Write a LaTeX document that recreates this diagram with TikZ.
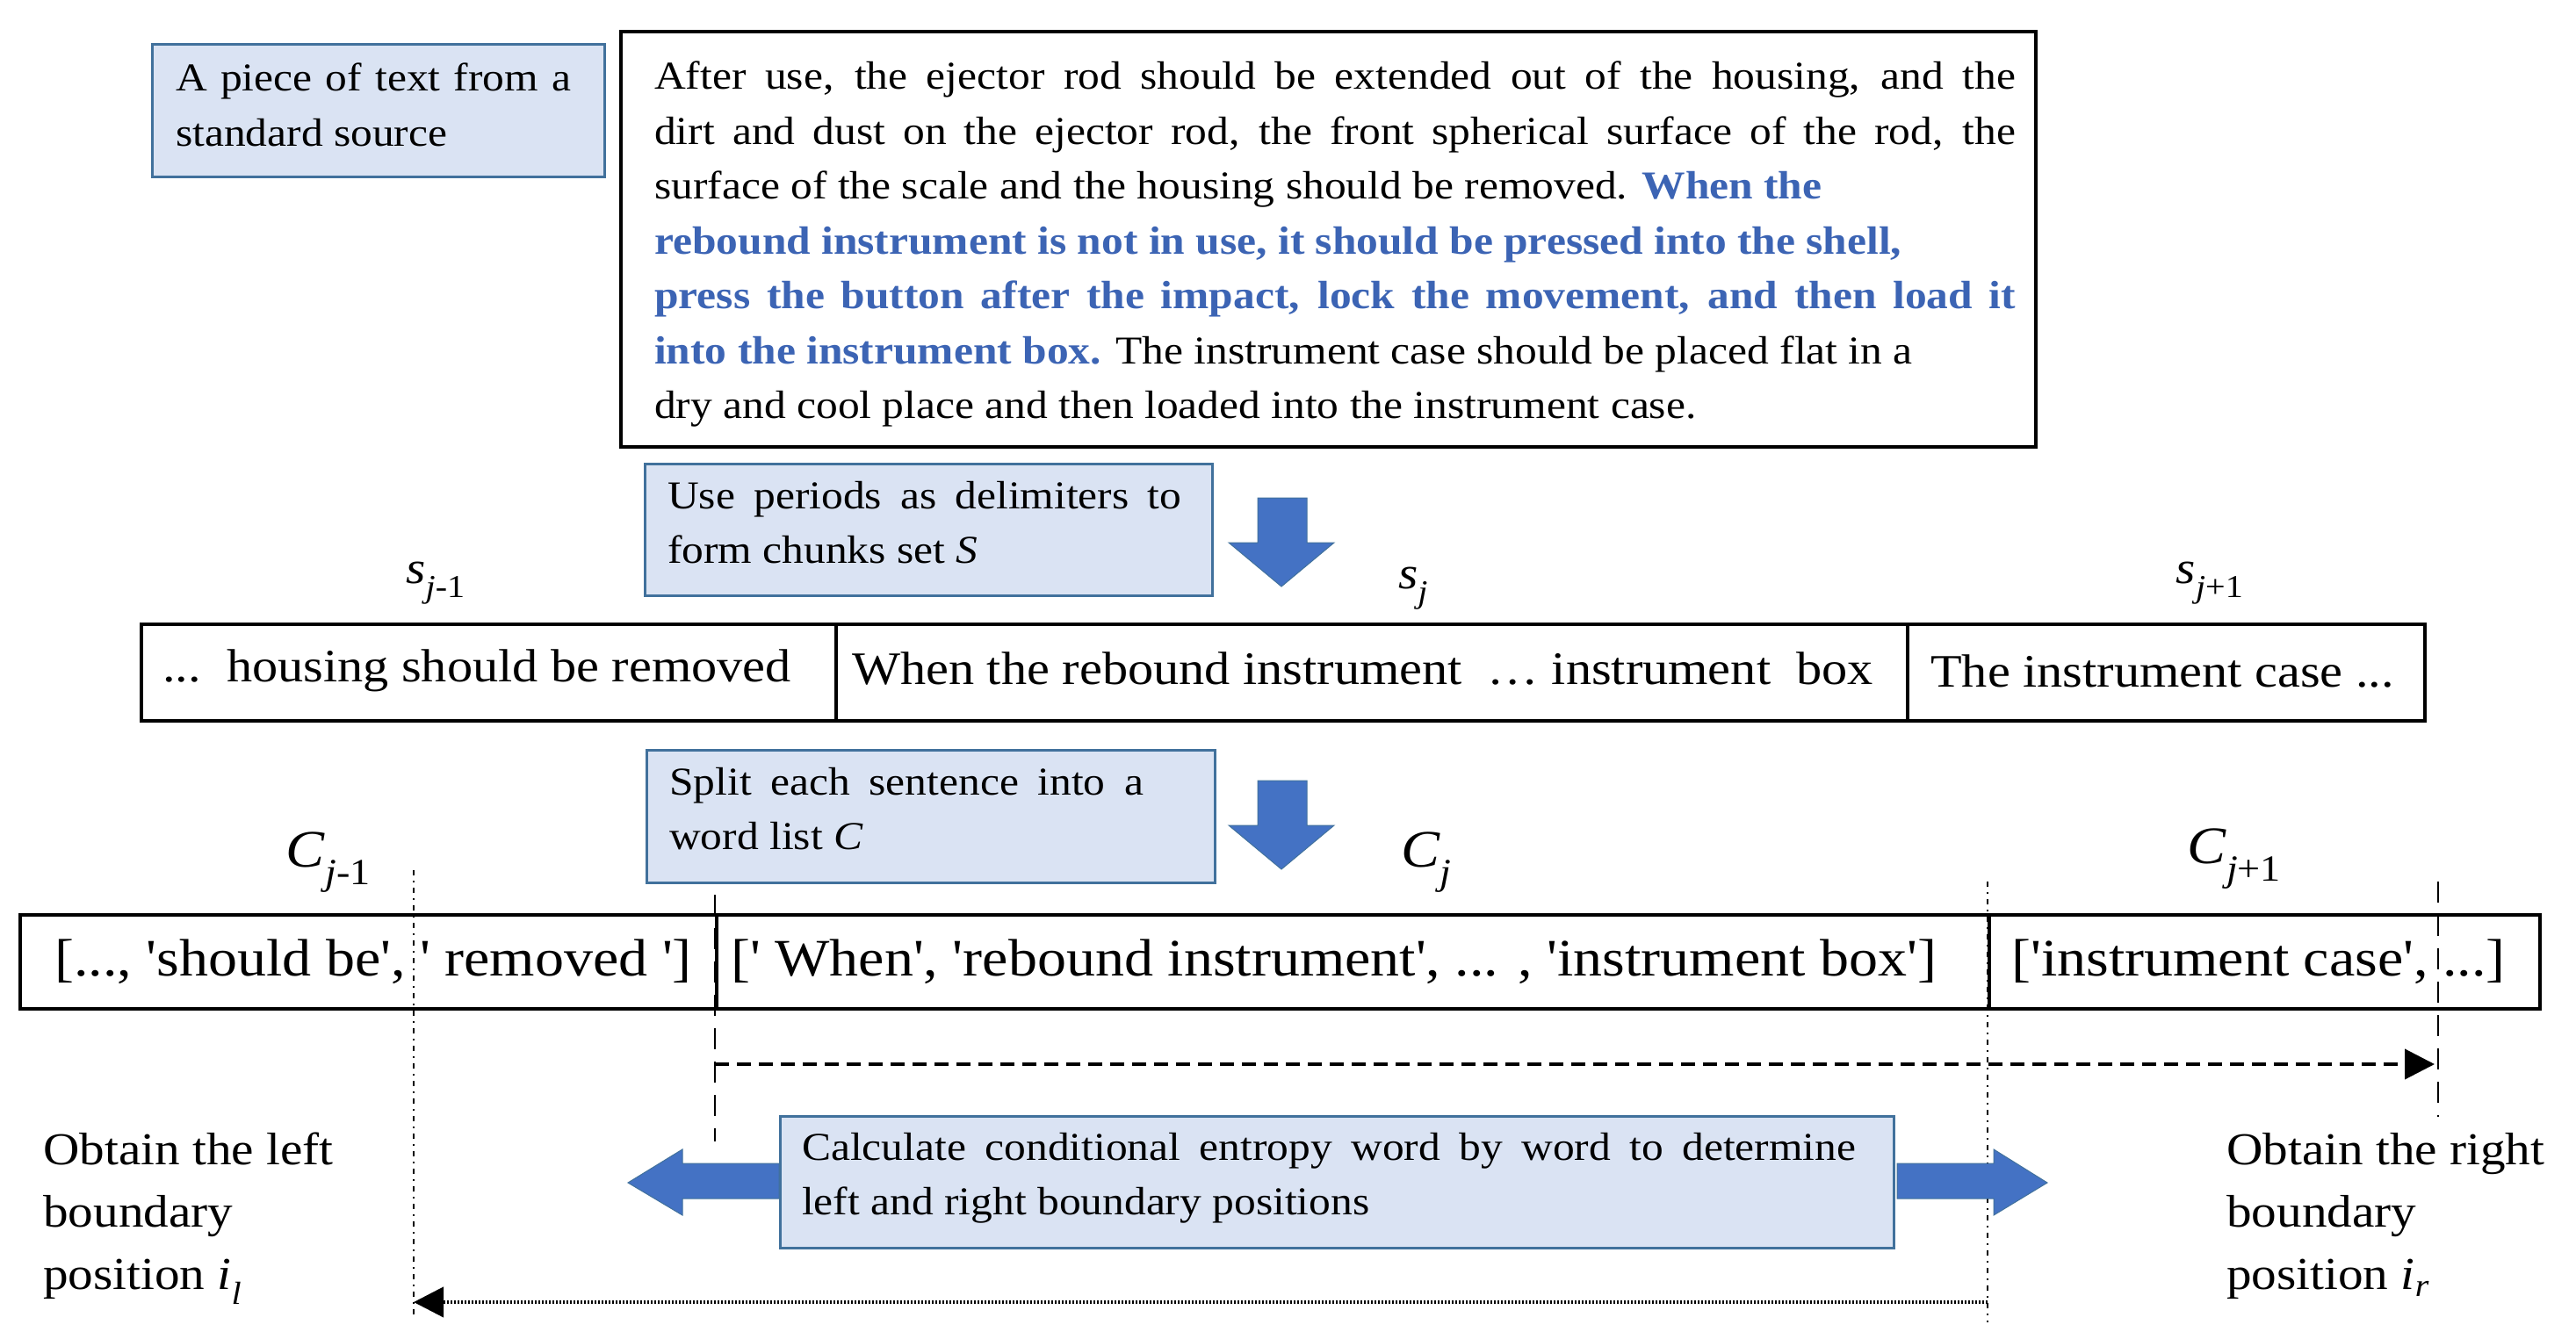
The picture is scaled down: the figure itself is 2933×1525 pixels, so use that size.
\documentclass[tikz,border=0pt]{standalone}
\usepackage{fontspec}
\setmainfont{Liberation Serif}[FakeStretch=1.1,Ligatures=TeXOff]
\usetikzlibrary{arrows.meta}
\definecolor{boxfill}{HTML}{DAE3F3}
\definecolor{boxline}{HTML}{41719C}
\definecolor{arrblue}{HTML}{4472C4}
\definecolor{hlblue}{HTML}{3C64B4}
\begin{document}
\begin{tikzpicture}[x=1pt,y=-1pt,
  bluebox/.style={draw=boxline,fill=boxfill,line width=3pt,inner sep=0pt,anchor=north west},
  cell/.style={draw=black,line width=4pt,inner sep=0pt,anchor=north west},
  txt/.style={inner sep=0pt,anchor=west,align=left},
  mainfs/.style={font=\fontsize{45}{62.5}\selectfont},
  rowfs/.style={font=\fontsize{53}{60}\selectfont},
  wordfs/.style={font=\fontsize{60}{60}\selectfont},
  labfs/.style={font=\fontsize{52}{71}\selectfont},
  fat/.style={fill=arrblue,draw=boxline,line width=1pt}]
\useasboundingbox (0,0) rectangle (2933,1525);
% top left box
\node[bluebox,minimum width=515pt,minimum height=151pt] (src) at (172,49) {};
\node[txt,mainfs,anchor=north west,text width=450pt,align=justify] (srct) at (200,72) {A piece of text from a\linebreak standard source};
% big text box
\node[cell,minimum width=1611pt,minimum height=473pt] (big) at (705,34) {};
\node[txt,mainfs,anchor=north west,text width=1550pt,align=justify] (bigt) at (745,70) {After use, the ejector rod should be extended out of the housing, and the\linebreak
dirt and dust on the ejector rod, the front spherical surface of the rod, the\linebreak
surface of the scale and the housing should be removed. {\color{hlblue}\bfseries When the}\hfill\null\\
{\color{hlblue}\bfseries rebound instrument is not in use, it should be pressed into the shell,}\hfill\null\\
{\color{hlblue}\bfseries press the button after the impact, lock the movement, and then load it}\linebreak
{\color{hlblue}\bfseries into the instrument box.} The instrument case should be placed flat in a\hfill\null\\
dry and cool place and then loaded into the instrument case.};
% use periods box
\node[bluebox,minimum width=646pt,minimum height=150pt] (per) at (733,527) {};
\node[txt,mainfs,anchor=north west,text width=585pt,align=justify] (pert) at (760,548) {Use periods as delimiters to\linebreak form chunks set \textit{S}};
\fill[fat] (1432,567) -- (1488,567) -- (1488,618) -- (1519,618) -- (1459,668) -- (1399,618) -- (1432,618) -- cycle;
% s labels
\node[labfs] (s1) at (496,664) {\textit{s}\textsubscript{\textit{j}-1}};
\node[labfs] (s2) at (1609,670) {\textit{s}\textsubscript{\textit{j}}};
\node[labfs] (s3) at (2516,664) {\textit{s}\textsubscript{\textit{j}+1}};
% sentence row
\node[cell,minimum width=791pt,minimum height=110pt] (r1) at (159,709) {};
\node[cell,minimum width=1220pt,minimum height=110pt] (r2) at (950,709) {};
\node[cell,minimum width=589pt,minimum height=110pt] (r3) at (2170,709) {};
\node[txt,rowfs] at (185,764) {...\ \ housing should be removed};
\node[txt,rowfs] at (970,762) {When the rebound instrument \ … instrument \ box};
\node[txt,rowfs] at (2198,764) {The instrument case ...};
% split box
\node[bluebox,minimum width=647pt,minimum height=151pt] (spl) at (735,853) {};
\node[txt,mainfs,anchor=north west,text width=540pt,align=justify] (splt) at (762,874) {Split each sentence into a\linebreak word list \textit{C}};
\fill[fat] (1432,889) -- (1488,889) -- (1488,940) -- (1519,940) -- (1459,990) -- (1399,940) -- (1432,940) -- cycle;
% C labels
\node[font=\fontsize{60}{60}\selectfont] (c1) at (374,982) {\textit{C}\textsubscript{\textit{j}-1}};
\node[font=\fontsize{60}{60}\selectfont] (c2) at (1624,982) {\textit{C}\textsubscript{\textit{j}}};
\node[font=\fontsize{60}{60}\selectfont] (c3) at (2544,978) {\textit{C}\textsubscript{\textit{j}+1}};
% word row
\node[cell,minimum width=793pt,minimum height=107pt] (w1) at (21,1040) {};
\node[cell,minimum width=1449pt,minimum height=107pt] (w2) at (814,1040) {};
\node[cell,minimum width=627pt,minimum height=107pt] (w3) at (2263,1040) {};
\node[txt,wordfs] at (62,1095) {[..., 'should be', ' removed ']};
\node[txt,wordfs] at (832,1095) {[' When', 'rebound instrument', ... , 'instrument box']};
\node[txt,wordfs] at (2290,1095) {['instrument case', ...]};
% guide lines
\coordinate (lt) at (471,991); \coordinate (lb) at (471,1497);
\coordinate (mt) at (814,1019); \coordinate (mb) at (814,1300);
\coordinate (rt) at (2776,1004); \coordinate (rb) at (2776,1272);
\coordinate (qt) at (2263,1004); \coordinate (qb) at (2263,1506);
\draw[line width=2.5pt,dash pattern=on 6pt off 6pt on 2pt off 6pt] (lt) -- (lb);
\draw[line width=2.5pt,dash pattern=on 6pt off 6pt on 2pt off 6pt] (qt) -- (qb);
\draw[line width=2.5pt,dash pattern=on 24pt off 14pt] (mt) -- (mb);
\draw[line width=2.5pt,dash pattern=on 24pt off 14pt] (rt) -- (rb);
\coordinate (ha) at (814,1212); \coordinate (hb) at (2772,1212);
\draw[line width=4pt,dash pattern=on 16pt off 9pt,-{Triangle[length=34pt,width=34pt]}] (ha) -- (hb);
\coordinate (da) at (2263,1483); \coordinate (db) at (471,1483);
\draw[line width=4pt,dash pattern=on 2pt off 2pt,-{Triangle[length=34pt,width=34pt]}] (da) -- (db);
% calculate box
\node[bluebox,minimum width=1268pt,minimum height=150pt] (calc) at (887,1270) {};
\node[txt,mainfs,anchor=north west,text width=1200pt,align=justify] (calct) at (913,1290) {Calculate conditional entropy word by word to determine\linebreak left and right boundary positions};
\fill[fat] (887,1325) -- (777,1325) -- (777,1309) -- (715,1347) -- (777,1384) -- (777,1365) -- (887,1365) -- cycle;
\fill[fat] (2160,1325) -- (2270,1325) -- (2270,1309) -- (2331,1347) -- (2270,1384) -- (2270,1365) -- (2160,1365) -- cycle;
% side labels
\node[txt,labfs,anchor=north west] (ol) at (49,1290) {Obtain the left\\boundary\\position \textit{i}\textsubscript{\textit{l}}};
\node[txt,labfs,anchor=north west] (or) at (2535,1290) {Obtain the right\\boundary\\position \textit{i}\textsubscript{\textit{r}}};
\end{tikzpicture}
\end{document}
